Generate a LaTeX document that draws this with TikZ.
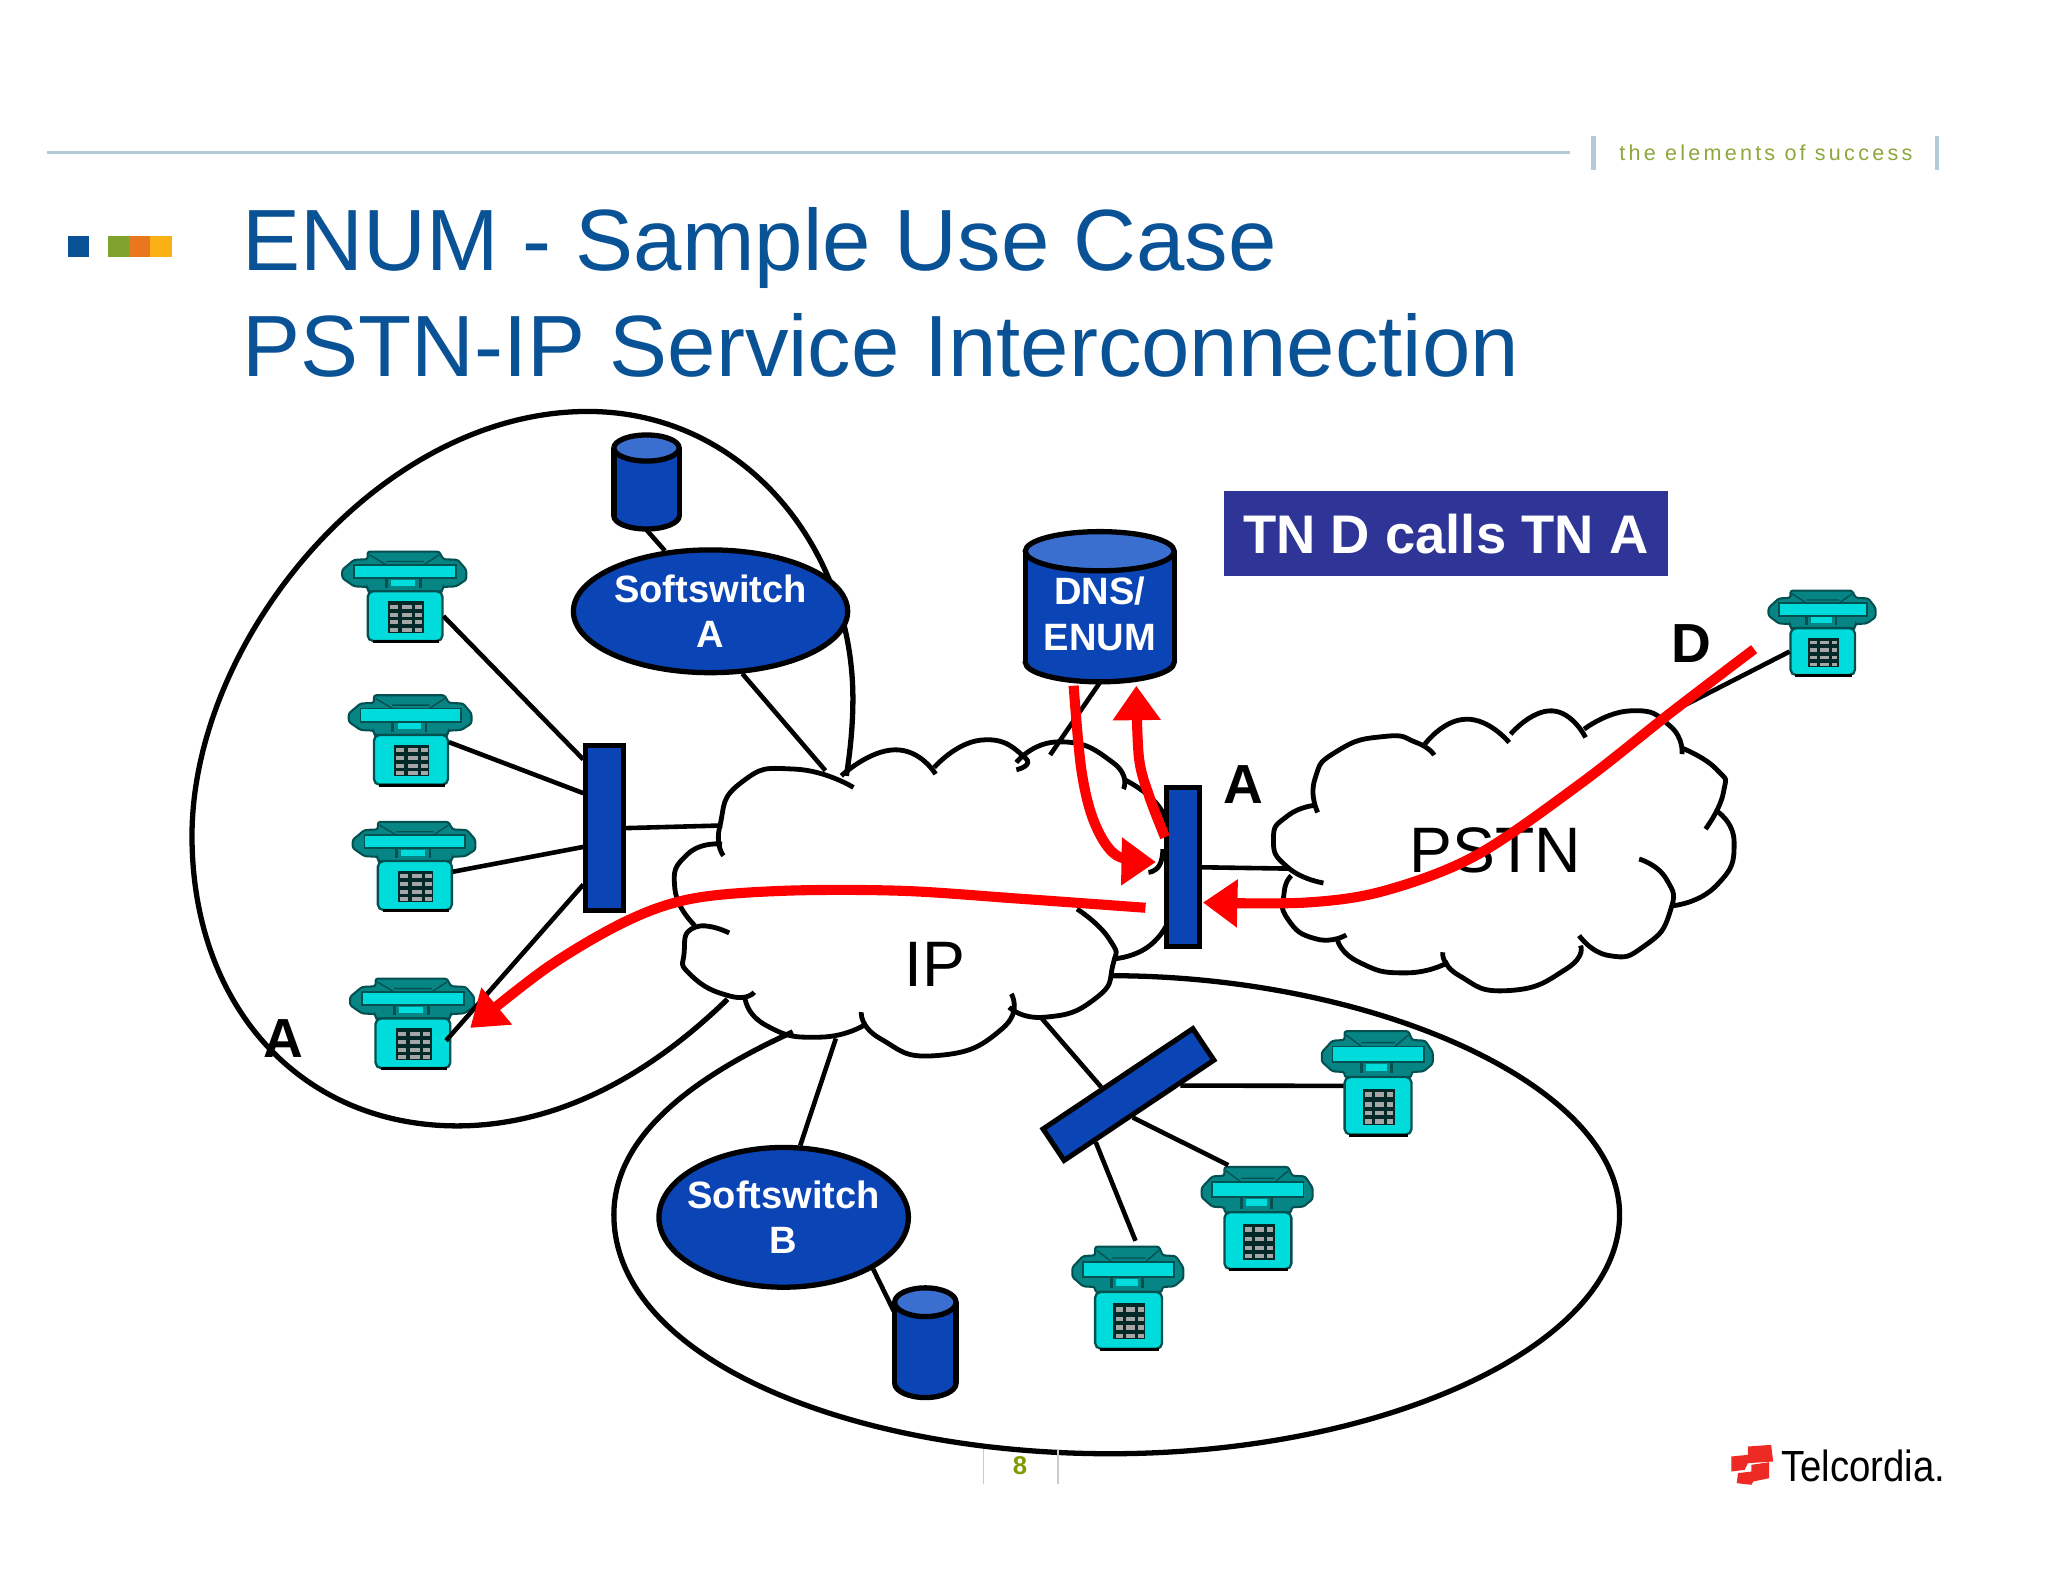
\documentclass[tikz,border=0pt]{standalone}
\usepackage{fontspec}
\setmainfont{Liberation Sans}
\usetikzlibrary{shapes.geometric,arrows.meta,calc}
\definecolor{tblue}{HTML}{0B44B4}
\definecolor{tbluetop}{HTML}{3A6FD0}
\definecolor{tcyan}{HTML}{00DCDC}
\definecolor{tteal}{HTML}{078484}
\definecolor{tdark}{HTML}{045050}
\definecolor{titleblue}{HTML}{0A5296}
\definecolor{rulec}{HTML}{B2CAD9}
\definecolor{slogan}{HTML}{8CA83C}
\definecolor{navy}{HTML}{2F3596}
\definecolor{pageno}{HTML}{7F9A00}
\definecolor{logored}{HTML}{EE2A24}
\definecolor{sqgreen}{HTML}{7FA32E}
\definecolor{sqorange}{HTML}{E8771E}
\definecolor{sqyellow}{HTML}{FBB016}
\tikzset{
  lk/.style={line width=1pt,black},
  blob/.style={line width=1.15pt,black},
  lobe/.style={line width=1.05pt,black},
  rackbox/.style={draw=black,line width=1.1pt,fill=tblue,inner sep=0pt},
  softsw/.style={ellipse,draw=black,line width=1.15pt,fill=tblue,text=white,inner sep=0pt,align=center,font=\fontsize{8.3}{9.7}\selectfont\bfseries},
  cyledge/.style={draw=black,line width=1.15pt},
  dbtext/.style={text=white,align=center,inner sep=0pt,font=\fontsize{8.3}{10}\selectfont\bfseries},
  redpath/.style={draw=red,line width=2.2pt,line join=round},
  redarrow/.style={redpath,-{Triangle[length=7.5pt,width=10pt]}},
  biglabel/.style={font=\fontsize{12}{14}\selectfont\bfseries,inner sep=0pt},
  cloudtxt/.style={font=\fontsize{14}{16}\selectfont,inner sep=0pt},
  phonebody/.style={inner sep=0pt,rectangle},
}
\newcommand{\cloudlobe}[1]{\draw[lobe] plot[smooth,tension=1] coordinates {#1};}
% name, cx, cy, width, height, y radius of the end
\newcommand{\dbcyl}[6]{%
\begin{scope}[shift={(#2,#3)}]
 \pgfmathsetmacro\cylrx{#4/2}\pgfmathsetmacro\cyltop{-#5/2+#6}\pgfmathsetmacro\cylbot{#5/2-#6}
 \fill[tblue,cyledge] (0,\cylbot) ellipse [x radius=\cylrx*0.1mm,y radius=#6*0.1mm];
 \fill[tblue] (-\cylrx,\cyltop) rectangle (\cylrx,\cylbot);
 \draw[cyledge] (-\cylrx,\cyltop)--(-\cylrx,\cylbot) (\cylrx,\cyltop)--(\cylrx,\cylbot);
 \fill[tbluetop,cyledge] (0,\cyltop) ellipse [x radius=\cylrx*0.1mm,y radius=#6*0.1mm];
 \node[inner sep=0pt,minimum width=#4*0.1mm,minimum height=#5*0.1mm] (#1) at (0,0) {};
\end{scope}}
\newcommand{\phone}[5]{%
\begin{scope}[shift={(#2,#3)},x=#4/365*0.1mm,y=-#5/280*0.1mm]
 \fill[tteal,draw=tdark,line width=.45pt,rounded corners=.5pt]
   (75,5)--(285,5)--(297,28)--(340,30)--(365,60)--(365,90)--(335,110)--(295,112)--(295,125)--(75,125)--(75,112)--(35,110)--(0,85)--(0,60)--(35,30)--(75,28)--cycle;
 \draw[tdark,line width=.3pt] (80,15)--(130,45) (285,15)--(240,45) (130,35)--(240,35);
 \fill[tcyan,draw=tdark,line width=.4pt] (35,45) rectangle (335,85);
 \fill[tcyan] (145,90) rectangle (215,108);
 \draw[tdark,line width=.6pt] (130,88)--(130,115) (230,88)--(230,115);
 \fill[tcyan,draw=tdark,line width=.5pt,rounded corners=1.2pt] (75,125) rectangle (295,275);
 \draw[black,line width=.7pt] (90,277)--(285,277);
 \fill[tdark!50!black] (135,155) rectangle (240,250);
 \foreach \yy in {165,190,213,235}{
   \fill[gray!70] (142,\yy) rectangle (165,\yy+12);
   \fill[gray!70] (175,\yy) rectangle (205,\yy+12);
   \fill[gray!70] (215,\yy) rectangle (235,\yy+12);}
 \node[phonebody,minimum width=#4*0.0603mm,minimum height=#5*0.0536mm] (#1) at (185,200) {};
 \coordinate (#1top) at (182,0);
\end{scope}}
\begin{document}
\begin{tikzpicture}[x=0.1mm,y=-0.1mm]
\useasboundingbox (0,0) rectangle (1568,1211.2);
\fill[white] (0,0) rectangle (1568,1211.2);
% header
\draw[rulec,line width=.7pt] (36,117)--(1202,117);
\draw[rulec,line width=.9pt] (1220,104)--(1220,130) (1483,104)--(1483,130);
\node[font=\fontsize{4.7}{5}\selectfont\addfontfeature{LetterSpace=15},text=slogan,inner sep=0pt] (slogan) at (1352,117) {the elements of success};
\fill[titleblue] (52,181) rectangle (68,197);
\fill[sqgreen] (83,181) rectangle (99,197);
\fill[sqorange] (99,181) rectangle (115,197);
\fill[sqyellow] (115,181) rectangle (132,197);
\node[anchor=base west,text=titleblue,font=\fontsize{18.95}{20}\selectfont,inner sep=0pt] (t1) at (185,207) {ENUM - Sample Use Case};
\node[anchor=base west,text=titleblue,font=\fontsize{18.95}{20}\selectfont,inner sep=0pt] (t2) at (185,288) {PSTN-IP Service Interconnection};
% domains
\draw[blob] (557,765) .. controls (490,830) and (420,862) .. (350,862) .. controls (230,862) and (147,770) .. (147,640) .. controls (147,490) and (290,315) .. (450,315) .. controls (570,315) and (653,420) .. (653,535) .. controls (653,555) and (651,575) .. (648,594);
\draw[blob] (607,790) .. controls (530,825) and (470,870) .. (470,930) .. controls (470,1040) and (650,1113) .. (850,1113) .. controls (1060,1113) and (1240,1030) .. (1240,930) .. controls (1240,830) and (1050,747) .. (850,747);
% clouds
\begin{scope}[shift={(504.7,520)},x=0.05469mm,y=-0.02549mm]
 \cloudlobe{(90,530) (85,440) (115,310) (190,270) (272,325)}
 \cloudlobe{(255,290) (330,212) (387,285)}
 \cloudlobe{(385,265) (450,183) (512,235) (500,272)}
 \cloudlobe{(500,250) (560,188) (635,250) (650,330)}
 \cloudlobe{(650,300) (695,370) (712,450)}
 \cloudlobe{(705,510) (700,560) (685,580)}
 \cloudlobe{(710,740) (680,810) (635,840)}
 \cloudlobe{(585,690) (630,780) (635,860) (610,960) (540,1015) (490,985)}
 \cloudlobe{(493,945) (480,1050) (390,1130) (310,1080) (283,1000)}
 \cloudlobe{(290,1035) (225,1075) (150,1040) (120,955)}
 \cloudlobe{(133,940) (100,952) (45,890) (35,820) (50,745) (98,762)}
 \cloudlobe{(50,740) (22,630) (40,525) (88,495)}
 \cloudlobe{(1085,228) (1060,190) (1015,172) (950,215) (918,300) (922,400)}
 \cloudlobe{(920,378) (880,410) (860,480) (880,565) (930,612)}
 \cloudlobe{(1072,195) (1130,120) (1190,190)}
 \cloudlobe{(1192,165) (1250,95) (1297,175)}
 \cloudlobe{(1295,150) (1360,95) (1415,140) (1432,225)}
 \cloudlobe{(1430,205) (1480,270) (1490,340) (1465,450)}
 \cloudlobe{(1480,395) (1505,490) (1480,620) (1420,680)}
 \cloudlobe{(1372,540) (1410,600) (1415,700) (1380,800) (1330,830) (1288,770)}
 \cloudlobe{(1290,800) (1270,870) (1190,935) (1120,890) (1097,820)}
 \cloudlobe{(1105,850) (1045,882) (980,850) (950,785)}
 \cloudlobe{(962,768) (920,780) (880,720) (875,640) (885,590)}
\end{scope}
\node[cloudtxt] (ip) at (716,738) {IP};
\node[cloudtxt] (pstn) at (1145,651) {PSTN};
% phones
\phone{p1}{262}{421}{95}{71}
\phone{p2}{267}{531}{94}{71}
\phone{p3}{270}{628}{94}{70}
\phone{p4}{268}{748}{95}{71}
\phone{pd}{1354}{451}{82}{67}
\phone{p5}{1012}{788}{85}{82}
\phone{p6}{920}{892}{85}{81}
\phone{p7}{821}{953}{85}{81}
% named free ends on the clouds
\coordinate (ipW) at (553,632);
\coordinate (ipNW) at (632,590);
\coordinate (ipN) at (804,578);
\coordinate (ipS) at (640,795);
\coordinate (ipSE) at (797,779);
\coordinate (pstnW) at (986,665);
\coordinate (pstnNE) at (1276,547);
% equipment
\node[rackbox,minimum width=2.9mm,minimum height=12.6mm] (rackA) at (463,634) {};
\node[rackbox,minimum width=2.5mm,minimum height=12.2mm] (rackB) at (905.5,664) {};
\node[rackbox,minimum width=13.8mm,minimum height=2.9mm,rotate=33.8] (rackC) at (864,838) {};
\node[softsw,minimum width=21mm,minimum height=9.4mm] (sA) at (544,468) {\makebox[0pt]{Softswitch}\\\makebox[0pt]{A}};
\node[softsw,minimum width=19.1mm,minimum height=10.7mm] (sB) at (600,932) {\makebox[0pt]{Softswitch}\\\makebox[0pt]{B}};
\dbcyl{dbA}{495}{369}{50}{72}{10}
\dbcyl{dbB}{708.5}{1028}{47}{84}{11}
\dbcyl{dns}{842}{464.5}{114}{115}{15}
\node[dbtext] (dnstxt) at (842,470) {DNS/\\ENUM};
% connectors
\draw[lk] (dbA.south)--(sA.127);
\draw[lk] (sA.-63)--(ipNW);
\draw[lk] (dns.south)--(ipN);
\draw[lk] ($(rackA.north west)!.095!(rackA.south west)$)--(p1.east);
\draw[lk] ($(rackA.north west)!.294!(rackA.south west)$)--(p2.25);
\draw[lk] ($(rackA.north west)!.611!(rackA.south west)$)--(p3.20);
\draw[lk] ($(rackA.north west)!.833!(rackA.south west)$)--($(p4.east)+(-4,-2)$);
\draw[lk] (rackA.east)--(ipW);
\draw[lk] (rackB.east)--(pstnW);
\draw[lk] (pd.west)--(pstnNE);
\draw[lk] (sB.77)--(ipS);
\draw[lk] (sB.-30)--(dbB.135);
\draw[lk] (ipSE)--($(rackC.north west)!.40!(rackC.north east)$);
\draw[lk] ($(rackC.south west)!.76!(rackC.south east)$)--(p5.150);
\draw[lk] ($(rackC.south west)!.45!(rackC.south east)$)--($(p6top)+(-22,0)$);
\draw[lk] ($(rackC.south west)!.21!(rackC.south east)$)--($(p7top)+(6,-3)$);
% labels
\node[fill=navy,text=white,minimum width=34mm,minimum height=6.5mm,inner sep=0pt,font=\fontsize{11.85}{14}\selectfont\bfseries] (banner) at (1107,408.5) {TN D calls TN A};
\node[biglabel] (la1) at (952,601) {A};
\node[biglabel] (la2) at (217,795) {A};
\node[biglabel] (ld) at (1295,493) {D};
% red call paths
\coordinate (rD) at (1343,497);
\coordinate (dnsB1) at (822,525);
\draw[redarrow] plot[smooth,tension=.55] coordinates {(rD) (1280,545) (1210,600) (1130,655) (1060,682) (1000,691) (921,691)};
\draw[redarrow] plot[smooth,tension=.55] coordinates {(877,695) (780,688) (690,682) (600,682) (530,688) (480,705) (420,740) (360,787)};
\draw[redarrow] plot[smooth,tension=.55] coordinates {(dnsB1) (828,590) (838,630) (855,655) (885,660)};
\draw[redarrow] plot[smooth,tension=.55] coordinates {(892,641) (880,610) (872,580) (870,525)};
% footer
\draw[gray!40,line width=.3pt] (753,1109)--(753,1136) (810,1109)--(810,1136);
\node[text=pageno,font=\fontsize{5.6}{6}\selectfont\bfseries,inner sep=0pt] (pg) at (781,1122) {8};
\begin{scope}[shift={(734,1085.8)},x=0.05078mm,y=-0.02549mm]
 \fill[logored] (1190,85)--(1225,80)--(1228,130)--(1190,135)--(1185,155)--(1165,160)--(1165,115)--(1190,110)--cycle;
 \fill[logored] (1175,165)--(1195,160)--(1195,140)--(1222,132)--(1222,180)--(1198,190)--(1195,200)--(1173,195)--cycle;
\end{scope}
\node[anchor=west,inner sep=0pt,font=\fontsize{9.5}{10}\selectfont] (logo) at (1363,1122) {\scalebox{.88}[1]{Telcordia.}};
\end{tikzpicture}
\end{document}
